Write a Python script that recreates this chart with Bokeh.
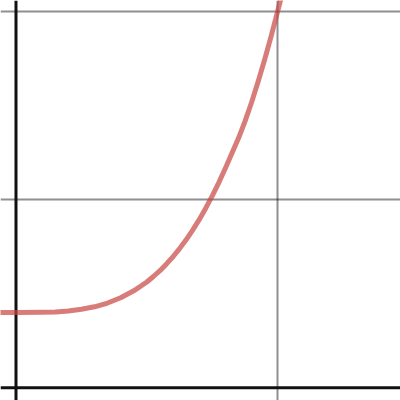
from bokeh.plotting import figure
from bokeh.models import Span, Range1d, Grid, FixedTicker
from bokeh.embed import file_html
from bokeh.resources import INLINE

# Curve values (x in grid units, y in grid units)
curve_x = [-0.06, 0.0, 0.1, 0.15, 0.2, 0.25, 0.3, 0.35, 0.4, 0.45, 0.5, 0.525,
           0.55, 0.575, 0.6, 0.625, 0.65, 0.675, 0.7, 0.725, 0.75, 0.775, 0.8,
           0.825, 0.85, 0.875, 0.9, 0.925, 0.95, 0.975, 1.0, 1.02]
curve_y = [0.4, 0.4, 0.401, 0.403, 0.408, 0.417, 0.43, 0.45, 0.478, 0.515, 0.562,
           0.591, 0.622, 0.658, 0.696, 0.739, 0.786, 0.837, 0.893, 0.954, 1.019,
           1.09, 1.166, 1.245, 1.325, 1.415, 1.515, 1.625, 1.742, 1.868, 2.0, 2.108]

grid_x = [1]
grid_y = [1, 2]

p = figure(width=400, height=400, output_backend="svg", toolbar_location=None,
           x_range=Range1d(-0.0592, 1.4692), y_range=Range1d(-0.0675, 2.0568),
           min_border=0, x_axis_type=None, y_axis_type=None,
           outline_line_color=None, background_fill_color="white",
           border_fill_color="white")

gx = Grid(dimension=0, ticker=FixedTicker(ticks=grid_x),
          grid_line_color="black", grid_line_alpha=0.44, grid_line_width=2)
gy = Grid(dimension=1, ticker=FixedTicker(ticks=grid_y),
          grid_line_color="black", grid_line_alpha=0.44, grid_line_width=2)
p.add_layout(gx)
p.add_layout(gy)

xaxis_line = Span(location=0, dimension="width", line_color="#111111",
                  line_width=3, level="underlay")
yaxis_line = Span(location=0, dimension="height", line_color="#111111",
                  line_width=3, level="underlay")
p.add_layout(xaxis_line)
p.add_layout(yaxis_line)

p.line(curve_x, curve_y, line_color="#c74440", line_alpha=0.7, line_width=5,
       line_cap="round", line_join="round")

open("out.html", "w").write(file_html(p, INLINE))
